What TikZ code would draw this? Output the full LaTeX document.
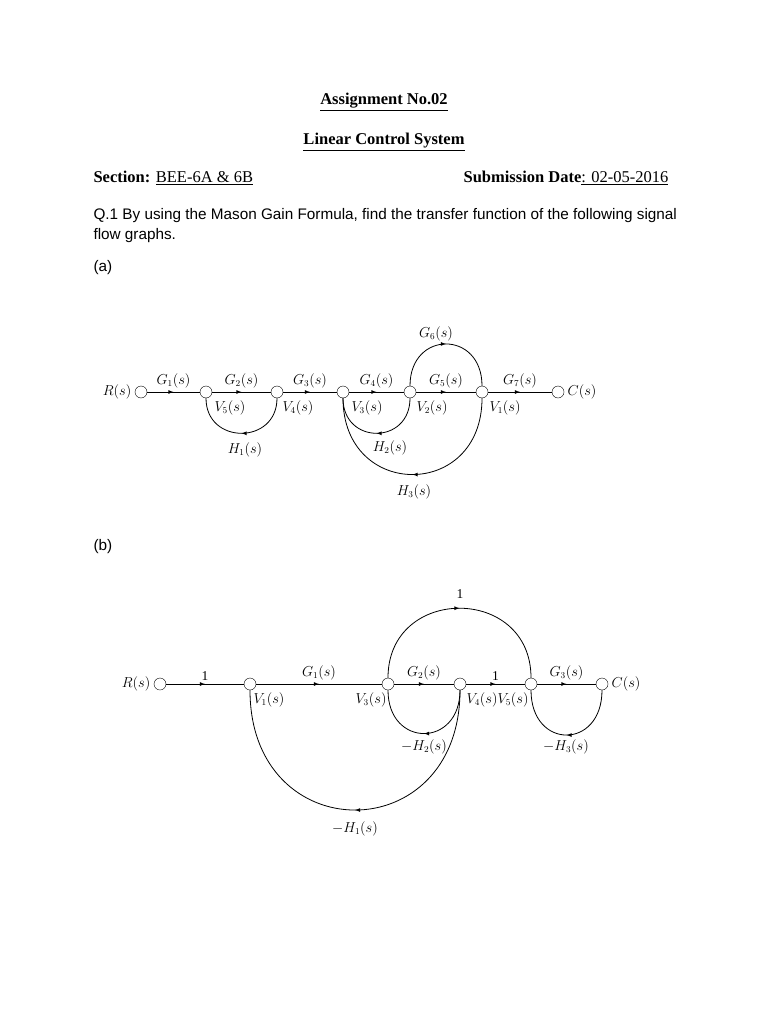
\documentclass[tikz,border=0pt]{standalone}
\usepackage{fontspec}
\setmainfont{Liberation Serif}
\newfontfamily\arialfont{Liberation Sans}
\usetikzlibrary{decorations.markings}
\tikzset{
  junc/.style={circle,draw,fill=white,minimum size=12pt,inner sep=0pt},
  branch/.style={thick,postaction={decorate},decoration={markings,
      mark=at position .5 with {\arrow{latex}}}},
  gain/.style={font=\fontsize{13.5}{15}\selectfont}
}
\begin{document}
\begin{tikzpicture}[x=1pt,y=-1pt]
    \useasboundingbox (0,0) rectangle (768,1024);
    % header
    \node[font=\bfseries\fontsize{16.5}{19}\selectfont] (title) at (384,102) {\underline{Assignment No.02}};
    \node[font=\bfseries\fontsize{16.5}{19}\selectfont] (course) at (384,142) {\underline{Linear Control System}};
    \node[anchor=west,font=\fontsize{16.5}{19}\selectfont] (sect) at (90,178) {\textbf{Section:} \underline{BEE-6A \& 6B}};
    \node[anchor=east,font=\fontsize{16.5}{19}\selectfont] (date) at (672,178) {\textbf{Submission Date}\underline{: 02-05-2016}};
    \node[anchor=west,font=\arialfont\fontsize{15.3}{20}\selectfont,align=left] (q1) at (90,226)
      {Q.1 By using the Mason Gain Formula, find the transfer function of the following signal\\flow graphs.};
    \node[anchor=west,font=\arialfont\fontsize{15.3}{16}\selectfont] (pa) at (90,268) {(a)};
    \node[anchor=west,font=\arialfont\fontsize{15.3}{16}\selectfont] (pb) at (90,547) {(b)};

    % graph (a)
    \foreach \n/\x in {aR/141,aV5/206,aV4/277,aV3/343,aV2/410,aV1/482,aC/558}
      \node[junc] (\n) at (\x,392) {};
    \node[gain,left] at (aR.west) {$R(s)$};
    \node[gain,right] at (aC.east) {$C(s)$};
    \draw[branch] (aR) -- node[gain,above]{$G_1(s)$} (aV5);
    \draw[branch] (aV5) -- node[gain,above]{$G_2(s)$} (aV4);
    \draw[branch] (aV4) -- node[gain,above]{$G_3(s)$} (aV3);
    \draw[branch] (aV3) -- node[gain,above]{$G_4(s)$} (aV2);
    \draw[branch] (aV2) -- node[gain,above]{$G_5(s)$} (aV1);
    \draw[branch] (aV1) -- node[gain,above]{$G_7(s)$} (aC);
    \node[gain] at (230,408) {$V_5(s)$};
    \node[gain] at (298,408) {$V_4(s)$};
    \node[gain] at (367,408) {$V_3(s)$};
    \node[gain] at (432,408) {$V_2(s)$};
    \node[gain] at (505,408) {$V_1(s)$};
    \draw[branch] (aV4) .. controls (277,445) and (206,445) .. (aV5);
    \node[gain] at (245,450) {$H_1(s)$};
    \draw[branch] (aV2) .. controls (410,445) and (343,445) .. (aV3);
    \node[gain] at (390,448) {$H_2(s)$};
    \draw[branch] (aV1) .. controls (482,500) and (343,500) .. (aV3);
    \node[gain] at (414,492) {$H_3(s)$};
    \draw[branch] (aV2) .. controls (410,330) and (482,330) .. (aV1);
    \node[gain] at (436,334) {$G_6(s)$};

    % graph (b)
    \foreach \n/\x in {bR/160,bV1/250,bV3/388,bV4/460,bV5/531,bC/602}
      \node[junc] (\n) at (\x,684) {};
    \node[gain,left] at (bR.west) {$R(s)$};
    \node[gain,right] at (bC.east) {$C(s)$};
    \draw[branch] (bR) -- node[gain,above]{1} (bV1);
    \draw[branch] (bV1) -- node[gain,above]{$G_1(s)$} (bV3);
    \draw[branch] (bV3) -- node[gain,above]{$G_2(s)$} (bV4);
    \draw[branch] (bV4) -- node[gain,above]{1} (bV5);
    \draw[branch] (bV5) -- node[gain,above]{$G_3(s)$} (bC);
    \node[gain] at (269,700) {$V_1(s)$};
    \node[gain] at (371,700) {$V_3(s)$};
    \node[gain] at (482,700) {$V_4(s)$};
    \node[gain] at (513,700) {$V_5(s)$};
    \draw[branch] (bV3) .. controls (388,585) and (531,585) .. (bV5);
    \node[gain] at (460,594) {1};
    \draw[branch] (bV4) .. controls (460,748) and (388,748) .. (bV3);
    \node[gain] at (424,747) {$-H_2(s)$};
    \draw[branch] (bC) .. controls (602,750) and (531,750) .. (bV5);
    \node[gain] at (566,747) {$-H_3(s)$};
    \draw[branch] (bV4) .. controls (460,850) and (250,850) .. (bV1);
    \node[gain] at (355,829) {$-H_1(s)$};
\end{tikzpicture}
\end{document}
